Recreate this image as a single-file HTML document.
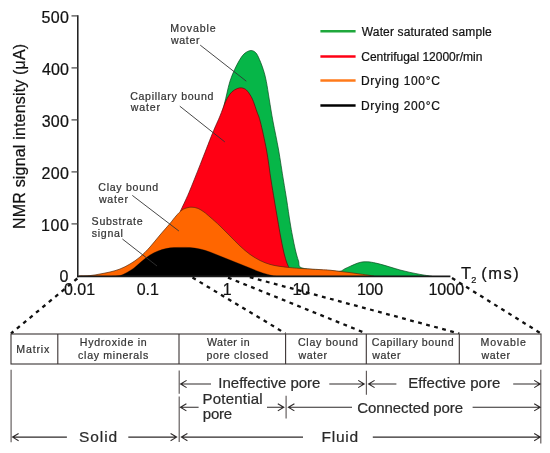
<!DOCTYPE html>
<html><head><meta charset="utf-8"><title>NMR T2 spectrum</title>
<style>html,body{margin:0;padding:0;background:#fff}svg{display:block}text{font-family:"Liberation Sans",sans-serif;stroke-width:0.22px;paint-order:stroke}</style>
</head><body>
<svg width="550" height="453" viewBox="0 0 550 453">
<rect width="550" height="453" fill="#fff"/>
<path d="M222.5,276.4 L222.5,112.0 C222.8,110.7 223.7,107.2 224.4,104.0 C225.2,100.8 226.1,96.8 227.0,93.0 C227.9,89.2 228.6,85.4 229.9,81.4 C231.2,77.5 232.8,73.3 234.7,69.3 C236.6,65.2 239.5,59.9 241.4,57.1 C243.3,54.3 244.6,53.4 246.2,52.3 C247.8,51.2 249.6,50.5 251.1,50.5 C252.6,50.5 254.1,51.2 255.3,52.3 C256.5,53.4 257.1,54.3 258.4,57.1 C259.7,59.9 261.9,65.2 263.2,69.3 C264.5,73.3 265.3,76.5 266.3,81.4 C267.3,86.4 268.1,92.2 269.2,99.0 C270.3,105.8 271.5,113.5 273.1,122.0 C274.7,130.5 276.9,140.3 278.6,150.0 C280.3,159.7 282.0,171.7 283.4,180.0 C284.8,188.3 285.6,193.0 286.7,200.0 C287.8,207.0 289.0,216.0 290.0,222.0 C291.0,228.0 291.6,231.3 292.5,236.0 C293.4,240.7 294.4,245.8 295.4,250.0 C296.4,254.2 297.5,258.1 298.5,261.0 C299.5,263.9 297.8,266.2 301.4,267.7 C305.0,269.2 314.9,269.6 320.0,270.2 C325.1,270.8 328.7,270.8 332.0,271.0 C335.3,271.2 337.8,271.7 340.0,271.3 C342.2,270.9 343.3,269.5 345.0,268.7 C346.7,267.9 348.5,267.1 350.0,266.4 C351.5,265.7 352.7,265.2 354.0,264.6 C355.3,264.0 356.7,263.4 358.0,263.0 C359.3,262.6 360.7,262.2 362.0,262.0 C363.3,261.8 364.7,261.8 366.0,261.8 C367.3,261.8 368.0,261.7 370.0,262.0 C372.0,262.3 374.7,262.8 378.0,263.6 C381.3,264.4 386.3,265.9 390.0,267.0 C393.7,268.1 396.7,269.1 400.0,270.0 C403.3,270.9 406.7,271.7 410.0,272.4 C413.3,273.1 417.0,273.8 420.0,274.4 C423.0,274.9 426.0,275.4 428.0,275.7 C430.0,276.0 431.3,276.3 432.0,276.4 L432.0,276.4 Z" fill="#06b648" stroke="#0a4a20" stroke-width="0.7" stroke-linejoin="round"/>
<path d="M180.5,276.4 L180.5,211.0 C181.9,207.9 185.7,200.3 189.0,192.5 C192.3,184.7 196.4,174.2 200.3,164.4 C204.2,154.6 209.1,141.7 212.4,133.6 C215.7,125.5 218.0,120.9 220.0,116.0 C222.0,111.1 223.3,107.2 224.6,104.0 C225.9,100.8 226.8,99.0 228.0,97.0 C229.2,95.0 230.5,93.2 232.0,91.8 C233.5,90.4 235.6,89.2 237.2,88.6 C238.8,87.9 240.3,87.7 241.8,87.9 C243.3,88.1 245.0,88.8 246.4,90.0 C247.8,91.2 249.0,93.1 250.2,95.0 C251.4,96.9 252.3,98.7 253.4,101.5 C254.5,104.3 255.8,108.6 257.0,112.0 C258.2,115.4 258.8,115.7 260.4,122.0 C262.0,128.3 264.7,140.3 266.5,150.0 C268.3,159.7 269.7,171.7 271.0,180.0 C272.3,188.3 273.2,193.3 274.3,200.0 C275.4,206.7 276.7,214.0 277.7,220.0 C278.7,226.0 279.6,231.0 280.5,236.0 C281.4,241.0 282.4,245.8 283.3,250.0 C284.2,254.2 285.3,258.1 286.2,261.0 C287.1,263.9 288.3,266.2 288.7,267.2 L288.7,276.4 Z" fill="#ff0014" stroke="#5a0a0a" stroke-width="0.7" stroke-linejoin="round"/>
<path d="M79.0,276.4 L79.0,276.0 C80.8,275.9 86.5,275.9 90.0,275.6 C93.5,275.3 96.7,274.6 100.0,274.0 C103.3,273.4 106.7,272.8 110.0,272.0 C113.3,271.2 116.7,270.3 120.0,269.0 C123.3,267.7 126.7,266.0 130.0,264.0 C133.3,262.0 136.7,259.8 140.0,257.0 C143.3,254.2 146.7,250.7 150.0,247.0 C153.3,243.3 156.7,238.9 160.0,235.0 C163.3,231.1 167.3,226.7 170.0,223.5 C172.7,220.3 174.0,218.2 176.0,216.0 C178.0,213.8 180.0,211.4 182.0,210.0 C184.0,208.6 186.3,208.1 188.0,207.6 C189.7,207.1 190.3,207.1 192.0,207.2 C193.7,207.3 196.0,207.6 198.0,208.4 C200.0,209.2 202.0,210.6 204.0,212.0 C206.0,213.4 207.3,214.7 210.0,217.0 C212.7,219.3 216.7,222.8 220.0,226.0 C223.3,229.2 226.7,232.7 230.0,236.0 C233.3,239.3 236.7,242.9 240.0,246.0 C243.3,249.1 246.7,252.0 250.0,254.4 C253.3,256.8 256.7,258.8 260.0,260.5 C263.3,262.2 266.7,263.4 270.0,264.4 C273.3,265.4 276.7,265.9 280.0,266.4 C283.3,266.9 286.7,267.3 290.0,267.6 C293.3,267.9 295.0,268.1 300.0,268.4 C305.0,268.7 315.0,269.3 320.0,269.6 C325.0,269.9 326.7,269.9 330.0,270.2 C333.3,270.5 336.7,271.0 340.0,271.4 C343.3,271.8 346.7,272.2 350.0,272.6 C353.3,273.0 356.7,273.5 360.0,274.0 C363.3,274.5 367.7,275.0 370.0,275.4 C372.3,275.8 373.3,276.1 374.0,276.2 L374.0,276.4 Z" fill="#ff6600" stroke="#5a2a0a" stroke-width="0.7" stroke-linejoin="round"/>
<path d="M112.0,276.4 L112.0,276.4 C113.3,276.3 117.7,276.2 120.0,275.6 C122.3,275.0 123.7,274.3 126.0,273.0 C128.3,271.7 131.3,270.0 134.0,268.0 C136.7,266.0 139.3,263.2 142.0,261.0 C144.7,258.8 147.3,256.7 150.0,255.0 C152.7,253.3 155.3,252.1 158.0,251.0 C160.7,249.9 163.3,249.2 166.0,248.6 C168.7,248.0 171.3,247.8 174.0,247.6 C176.7,247.4 179.3,247.4 182.0,247.4 C184.7,247.4 187.0,247.3 190.0,247.6 C193.0,247.9 196.7,248.3 200.0,249.0 C203.3,249.7 206.7,250.8 210.0,252.0 C213.3,253.2 216.7,254.7 220.0,256.0 C223.3,257.3 226.7,258.7 230.0,260.0 C233.3,261.3 236.7,262.7 240.0,264.0 C243.3,265.3 246.7,266.7 250.0,268.0 C253.3,269.3 256.7,270.8 260.0,272.0 C263.3,273.2 267.3,274.3 270.0,275.0 C272.7,275.7 275.0,276.2 276.0,276.4 L276.0,276.4 Z" fill="#000" stroke="#000" stroke-width="0.3" stroke-linejoin="round"/>
<line x1="77.8" y1="15.3" x2="77.8" y2="277.2" stroke="#1a1a1a" stroke-width="1.5"/>
<line x1="77" y1="276.3" x2="450.4" y2="276.3" stroke="#1a1a1a" stroke-width="1.8"/>
<line x1="71.5" y1="15.9" x2="77.8" y2="15.9" stroke="#444" stroke-width="1.2"/>
<text x="41.58" y="22.70" font-size="16" fill="#111" stroke="#111" letter-spacing="0.350" >500</text>
<line x1="71.5" y1="67.9" x2="77.8" y2="67.9" stroke="#444" stroke-width="1.2"/>
<text x="41.95" y="74.70" font-size="16" fill="#111" stroke="#111" letter-spacing="0.163" >400</text>
<line x1="71.5" y1="119.9" x2="77.8" y2="119.9" stroke="#444" stroke-width="1.2"/>
<text x="41.70" y="126.70" font-size="16" fill="#111" stroke="#111" letter-spacing="0.288" >300</text>
<line x1="71.5" y1="171.9" x2="77.8" y2="171.9" stroke="#444" stroke-width="1.2"/>
<text x="41.45" y="178.70" font-size="16" fill="#111" stroke="#111" letter-spacing="0.413" >200</text>
<line x1="71.5" y1="223.9" x2="77.8" y2="223.9" stroke="#444" stroke-width="1.2"/>
<text x="41.08" y="230.70" font-size="16" fill="#111" stroke="#111" letter-spacing="0.600" >100</text>
<text x="59.38" y="281.70" font-size="16" fill="#111" stroke="#111" >0</text>
<text x="63.88" y="295.00" font-size="16" fill="#111" stroke="#111" letter-spacing="0.017" >0.01</text>
<text x="136.68" y="295.00" font-size="16" fill="#111" stroke="#111" letter-spacing="0.012" >0.1</text>
<text x="222.68" y="295.00" font-size="16" fill="#111" stroke="#111" >1</text>
<text x="292.48" y="295.00" font-size="16" fill="#111" stroke="#111" letter-spacing="-0.325" >10</text>
<text x="356.88" y="295.00" font-size="16" fill="#111" stroke="#111" letter-spacing="-0.150" >100</text>
<text x="428.48" y="295.00" font-size="16" fill="#111" stroke="#111" >1000</text>
<text transform="translate(24.7,136.3) rotate(-90)" font-size="16" fill="#111" stroke="#111" text-anchor="middle" letter-spacing="0.18">NMR signal intensity (μA)</text>
<text font-size="16.5" fill="#111" stroke="#111"><tspan x="461" y="278.6">T</tspan><tspan x="471.2" y="282.7" font-size="9.2">2</tspan><tspan x="481.2" y="278.6" letter-spacing="1.5">(ms)</tspan></text>
<line x1="320.4" y1="31.2" x2="355.6" y2="31.2" stroke="#1fa83c" stroke-width="2.5"/>
<text x="361.80" y="35.70" font-size="12" fill="#111" stroke="#111" letter-spacing="0.143" >Water saturated sample</text>
<line x1="320.4" y1="56.4" x2="355.6" y2="56.4" stroke="#ff0014" stroke-width="2.5"/>
<text x="361.30" y="60.90" font-size="12" fill="#111" stroke="#111" letter-spacing="-0.017" >Centrifugal 12000r/min</text>
<line x1="320.4" y1="80.6" x2="355.6" y2="80.6" stroke="#ff7a1a" stroke-width="2.5"/>
<text x="360.93" y="85.10" font-size="12" fill="#111" stroke="#111" letter-spacing="0.677" >Drying 100°C</text>
<line x1="320.4" y1="105.6" x2="355.6" y2="105.6" stroke="#000" stroke-width="2.5"/>
<text x="360.93" y="110.10" font-size="12" fill="#111" stroke="#111" letter-spacing="0.677" >Drying 200°C</text>
<text x="170.15" y="31.60" font-size="10.6" fill="#333" stroke="#333" letter-spacing="0.917" >Movable</text>
<text x="171.03" y="43.60" font-size="10.6" fill="#333" stroke="#333" letter-spacing="0.625" >water</text>
<text x="130.20" y="99.60" font-size="10.6" fill="#333" stroke="#333" letter-spacing="0.684" >Capillary bound</text>
<text x="130.82" y="111.20" font-size="10.6" fill="#333" stroke="#333" letter-spacing="0.825" >water</text>
<text x="98.30" y="191.10" font-size="10.6" fill="#333" stroke="#333" letter-spacing="0.708" >Clay bound</text>
<text x="98.92" y="203.40" font-size="10.6" fill="#333" stroke="#333" letter-spacing="0.800" >water</text>
<text x="91.62" y="225.00" font-size="10.6" fill="#333" stroke="#333" letter-spacing="0.706" >Substrate</text>
<text x="91.75" y="237.40" font-size="10.6" fill="#333" stroke="#333" letter-spacing="0.705" >signal</text>
<line x1="200.2" y1="45.1" x2="246.3" y2="81.2" stroke="#333" stroke-width="0.9"/>
<line x1="179.8" y1="106.2" x2="224.8" y2="141.9" stroke="#333" stroke-width="0.9"/>
<line x1="132.3" y1="195.4" x2="178.9" y2="231" stroke="#333" stroke-width="0.9"/>
<line x1="122.4" y1="239" x2="157" y2="266" stroke="#333" stroke-width="0.9"/>
<line x1="77.3" y1="278.5" x2="11" y2="333.5" stroke="#111" stroke-width="2.3" stroke-dasharray="3.8 4.5"/>
<line x1="192.5" y1="277.6" x2="285.5" y2="333.5" stroke="#111" stroke-width="2.3" stroke-dasharray="3.8 4.5"/>
<line x1="228" y1="277.6" x2="366.3" y2="333.5" stroke="#111" stroke-width="2.3" stroke-dasharray="3.8 4.5"/>
<line x1="249.8" y1="277.2" x2="459.3" y2="333.5" stroke="#111" stroke-width="2.3" stroke-dasharray="3.8 4.5"/>
<line x1="452" y1="278" x2="541" y2="333.5" stroke="#111" stroke-width="2.3" stroke-dasharray="3.8 4.5"/>
<rect x="11" y="334" width="530" height="30" fill="#fff" stroke="#3a3333" stroke-width="1.1"/>
<line x1="57.8" y1="334" x2="57.8" y2="364" stroke="#3a3333" stroke-width="1.1"/>
<line x1="179" y1="334" x2="179" y2="364" stroke="#3a3333" stroke-width="1.1"/>
<line x1="285.6" y1="334" x2="285.6" y2="364" stroke="#3a3333" stroke-width="1.1"/>
<line x1="366.3" y1="334" x2="366.3" y2="364" stroke="#3a3333" stroke-width="1.1"/>
<line x1="459.3" y1="334" x2="459.3" y2="364" stroke="#3a3333" stroke-width="1.1"/>
<text x="16.25" y="353.00" font-size="10.6" fill="#333" stroke="#333" letter-spacing="0.835" >Matrix</text>
<text x="79.75" y="346.20" font-size="10.6" fill="#333" stroke="#333" letter-spacing="0.734" >Hydroxide in</text>
<text x="78.12" y="358.60" font-size="10.6" fill="#333" stroke="#333" letter-spacing="0.688" >clay minerals</text>
<text x="207.00" y="346.00" font-size="10.6" fill="#333" stroke="#333" letter-spacing="0.500" >Water in</text>
<text x="206.38" y="359.00" font-size="10.6" fill="#333" stroke="#333" letter-spacing="0.698" >pore closed</text>
<text x="298.00" y="346.00" font-size="10.6" fill="#333" stroke="#333" letter-spacing="0.708" >Clay bound</text>
<text x="298.62" y="359.00" font-size="10.6" fill="#333" stroke="#333" letter-spacing="0.6">water</text>
<text x="371.70" y="346.00" font-size="10.6" fill="#333" stroke="#333" letter-spacing="0.6">Capillary bound</text>
<text x="372.32" y="359.00" font-size="10.6" fill="#333" stroke="#333" letter-spacing="0.6">water</text>
<text x="480.55" y="346.00" font-size="10.6" fill="#333" stroke="#333" letter-spacing="0.883" >Movable</text>
<text x="481.43" y="359.00" font-size="10.6" fill="#333" stroke="#333" letter-spacing="0.675" >water</text>
<line x1="11.1" y1="369.7" x2="11.1" y2="442.3" stroke="#5e5858" stroke-width="1.15"/>
<line x1="179.2" y1="370.5" x2="179.2" y2="393.8" stroke="#5e5858" stroke-width="1.15"/>
<line x1="179.2" y1="396.6" x2="179.2" y2="442" stroke="#5e5858" stroke-width="1.15"/>
<line x1="286.1" y1="395.7" x2="286.1" y2="418.5" stroke="#5e5858" stroke-width="1.15"/>
<line x1="366.4" y1="370.8" x2="366.4" y2="394.8" stroke="#5e5858" stroke-width="1.15"/>
<line x1="540.8" y1="369.7" x2="540.8" y2="443.6" stroke="#5e5858" stroke-width="1.15"/>
<path d="M211,384 L180.6,384 M186.6,380.4 L180.6,384 L186.6,387.6" fill="none" stroke="#2e2a2a" stroke-width="1.1"/>
<path d="M329.3,384 L364.2,384 M358.2,380.4 L364.2,384 L358.2,387.6" fill="none" stroke="#2e2a2a" stroke-width="1.1"/>
<path d="M396.4,384 L368.6,384 M374.6,380.4 L368.6,384 L374.6,387.6" fill="none" stroke="#2e2a2a" stroke-width="1.1"/>
<path d="M513.2,384 L540.2,384 M534.2,380.4 L540.2,384 L534.2,387.6" fill="none" stroke="#2e2a2a" stroke-width="1.1"/>
<path d="M198.6,407.3 L180.4,407.3 M186.4,403.7 L180.4,407.3 L186.4,410.90000000000003" fill="none" stroke="#2e2a2a" stroke-width="1.1"/>
<path d="M267,407.3 L283.8,407.3 M277.8,403.7 L283.8,407.3 L277.8,410.90000000000003" fill="none" stroke="#2e2a2a" stroke-width="1.1"/>
<path d="M352,407.3 L288.4,407.3 M294.4,403.7 L288.4,407.3 L294.4,410.90000000000003" fill="none" stroke="#2e2a2a" stroke-width="1.1"/>
<path d="M472.6,407.3 L540.2,407.3 M534.2,403.7 L540.2,407.3 L534.2,410.90000000000003" fill="none" stroke="#2e2a2a" stroke-width="1.1"/>
<path d="M66.9,437.1 L12.6,437.1 M18.6,433.5 L12.6,437.1 L18.6,440.70000000000005" fill="none" stroke="#2e2a2a" stroke-width="1.1"/>
<path d="M128.3,437.1 L176.6,437.1 M170.6,433.5 L176.6,437.1 L170.6,440.70000000000005" fill="none" stroke="#2e2a2a" stroke-width="1.1"/>
<path d="M303,437.1 L181.4,437.1 M187.4,433.5 L181.4,437.1 L187.4,440.70000000000005" fill="none" stroke="#2e2a2a" stroke-width="1.1"/>
<path d="M372.8,437.1 L540.2,437.1 M534.2,433.5 L540.2,437.1 L534.2,440.70000000000005" fill="none" stroke="#2e2a2a" stroke-width="1.1"/>
<text x="218.32" y="387.90" font-size="15" fill="#2a2a2a" stroke="#2a2a2a" letter-spacing="-0.012" >Ineffective pore</text>
<text x="408.27" y="387.90" font-size="15" fill="#2a2a2a" stroke="#2a2a2a" letter-spacing="0.050" >Effective pore</text>
<text x="202.57" y="404.30" font-size="15" fill="#2a2a2a" stroke="#2a2a2a" letter-spacing="0.206" >Potential</text>
<text x="202.82" y="419.30" font-size="15" fill="#2a2a2a" stroke="#2a2a2a" letter-spacing="-0.233" >pore</text>
<text x="357.25" y="412.50" font-size="15" fill="#2a2a2a" stroke="#2a2a2a" letter-spacing="-0.067" >Connected pore</text>
<text x="78.88" y="442.20" font-size="15.5" fill="#2a2a2a" stroke="#2a2a2a" letter-spacing="0.956" >Solid</text>
<text x="321.55" y="442.20" font-size="15.5" fill="#2a2a2a" stroke="#2a2a2a" letter-spacing="0.756" >Fluid</text>
</svg>
</body></html>
